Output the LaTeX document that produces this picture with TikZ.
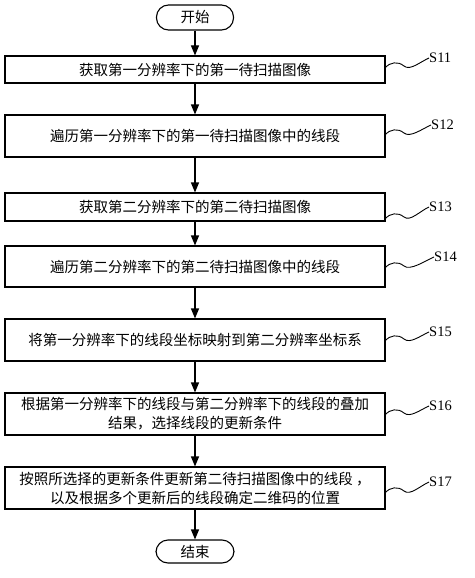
\documentclass[tikz,border=0pt]{standalone}
\usepackage{fontspec}
\setmainfont{Liberation Serif}
\newfontfamily\cjk{Noto Sans CJK SC}
\usetikzlibrary{arrows.meta}
\begin{document}
\begin{tikzpicture}[x=1pt,y=-1pt,
  box/.style={draw,line width=1.1pt,minimum width=380pt,inner sep=0pt,align=center,font=\cjk\fontsize{14.5}{19}\selectfont},
  term/.style={draw,line width=1.1pt,rounded corners=12pt,minimum width=77pt,minimum height=25pt,inner sep=0pt,font=\cjk\fontsize{14.5}{19}\selectfont},
  arr/.style={line width=1.1pt,-{Triangle[length=10pt,width=8pt]}},
  wave/.style={line width=0.9pt},
  lab/.style={anchor=west,inner sep=0pt,font=\fontsize{14.5}{17}\selectfont}]
\useasboundingbox (0,0) rectangle (474,578);

\node[term] (start) at (195,17.5) {开始};
\node[box,minimum height=27pt] (s11) at (195,69.5) {获取第一分辨率下的第一待扫描图像};
\node[box,minimum height=42pt] (s12) at (195,136) {遍历第一分辨率下的第一待扫描图像中的线段};
\node[box,minimum height=28pt] (s13) at (195,207) {获取第二分辨率下的第二待扫描图像};
\node[box,minimum height=41pt] (s14) at (195,266.5) {遍历第二分辨率下的第二待扫描图像中的线段};
\node[box,minimum height=42pt] (s15) at (195,340) {将第一分辨率下的线段坐标映射到第二分辨率坐标系};
\node[box,minimum height=42pt] (s16) at (195,414) {根据第一分辨率下的线段与第二分辨率下的线段的叠加\\结果，选择线段的更新条件};
\node[box,minimum height=42pt] (s17) at (195,488) {按照所选择的更新条件更新第二待扫描图像中的线段 ，\\以及根据多个更新后的线段确定二维码的位置};
\node[term,minimum height=23pt,minimum width=78pt] (end) at (195,551.5) {结束};

\draw[arr] (start) -- (s11);
\draw[arr] (s11) -- (s12);
\draw[arr] (s12) -- (s13);
\draw[arr] (s13) -- (s14);
\draw[arr] (s14) -- (s15);
\draw[arr] (s15) -- (s16);
\draw[arr] (s16) -- (s17);
\draw[arr] (s17) -- (end);

\node[lab] (l11) at (429,58) {S11};
\node[lab] (l12) at (431,125) {S12};
\node[lab] (l13) at (429,207) {S13};
\node[lab] (l14) at (434,257) {S14};
\node[lab] (l15) at (429,332) {S15};
\node[lab] (l16) at (429,406) {S16};
\node[lab] (l17) at (429,482) {S17};

\coordinate (w11) at (385,68);
\coordinate (w12) at (385,135);
\coordinate (w13) at (385,219);
\coordinate (w14) at (385,268);
\coordinate (w15) at (385,341);
\coordinate (w16) at (385,415);
\coordinate (w17) at (385,493);

\foreach \i in {11,12,13,14,15,16,17}{
  \draw[wave] (w\i) .. controls +(5,-6) and +(-6,-5) .. ++(19,-2)
    .. controls +(6,5) and +(-9,4) .. (l\i.west);
}
\end{tikzpicture}
\end{document}
